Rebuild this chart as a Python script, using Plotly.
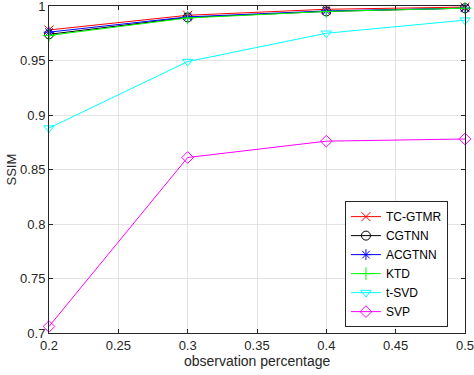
import plotly.graph_objects as go

x = [0.2, 0.3, 0.4, 0.5]
tc_gtmr = [0.978, 0.9915, 0.997, 0.999]
cgtnn = [0.974, 0.9895, 0.995, 0.998]
acgtnn = [0.976, 0.990, 0.9955, 0.998]
ktd = [0.973, 0.989, 0.995, 0.998]
tsvd = [0.888, 0.949, 0.975, 0.987]
svp = [0.706, 0.861, 0.876, 0.878]

x_ticks = [0.2, 0.25, 0.3, 0.35, 0.4, 0.45, 0.5]
x_labels = ["0.2", "0.25", "0.3", "0.35", "0.4", "0.45", "0.5"]
y_ticks = [0.7, 0.75, 0.8, 0.85, 0.9, 0.95, 1.0]
y_labels = ["0.7", "0.75", "0.8", "0.85", "0.9", "0.95", "1"]

series = [
    ("TC-GTMR", tc_gtmr, "#ff0000", "x-thin-open"),
    ("CGTNN", cgtnn, "#000000", "circle-open"),
    ("ACGTNN", acgtnn, "#0000ff", "asterisk-open"),
    ("KTD", ktd, "#00ff00", "cross-thin-open"),
    ("t-SVD", tsvd, "#00ffff", "triangle-down-open"),
    ("SVP", svp, "#ff00ff", "diamond-open"),
]

fig = go.Figure()
for name, ys, col, sym in series:
    fig.add_trace(go.Scatter(
        x=x, y=ys, name=name, mode="lines+markers", cliponaxis=False,
        line=dict(color=col, width=1),
        marker=dict(symbol=sym, size=9, color=col, line=dict(color=col, width=1)),
    ))

axis_common = dict(
    showline=True, linecolor="#262626", linewidth=1, mirror="ticks",
    ticks="inside", ticklen=4, tickcolor="#262626", automargin=False,
    ticklabeloverflow="allow",
    showgrid=True, gridcolor="#e3e3e3", gridwidth=1, zeroline=False,
    tickfont=dict(family="Liberation Sans, Arial", size=13, color="#262626"),
)

fig.update_layout(
    width=474, height=375,
    margin=dict(l=49, r=9, t=6, b=42),
    paper_bgcolor="white", plot_bgcolor="white",
    font=dict(family="Liberation Sans, Arial", size=13, color="#262626"),
    xaxis=dict(range=[0.2 - 1e-6, 0.5 + 1e-6], tickvals=x_ticks, ticktext=x_labels,
               **axis_common),
    yaxis=dict(range=[0.7 - 1e-6, 1.0 + 1e-6], tickvals=y_ticks, ticktext=y_labels,
               **axis_common),
    legend=dict(x=0.959, y=0.018, xanchor="right", yanchor="bottom",
                bgcolor="white", bordercolor="#262626", borderwidth=1,
                font=dict(size=12, color="#000000"), tracegroupgap=0,
                itemwidth=30),
    showlegend=True,
    annotations=[
        dict(text="observation percentage", xref="paper", yref="paper",
             x=0.5, y=-0.087, xanchor="center", yanchor="middle", showarrow=False,
             font=dict(size=14, color="#262626")),
        dict(text="SSIM", xref="paper", yref="paper", textangle=-90,
             x=-0.089, y=0.5, xanchor="center", yanchor="middle", showarrow=False,
             font=dict(size=13, color="#262626")),
    ],
)

fig.write_html("out.html", config={"displayModeBar": False},
               post_script="document.body.style.margin='0';document.body.style.padding='0';")
